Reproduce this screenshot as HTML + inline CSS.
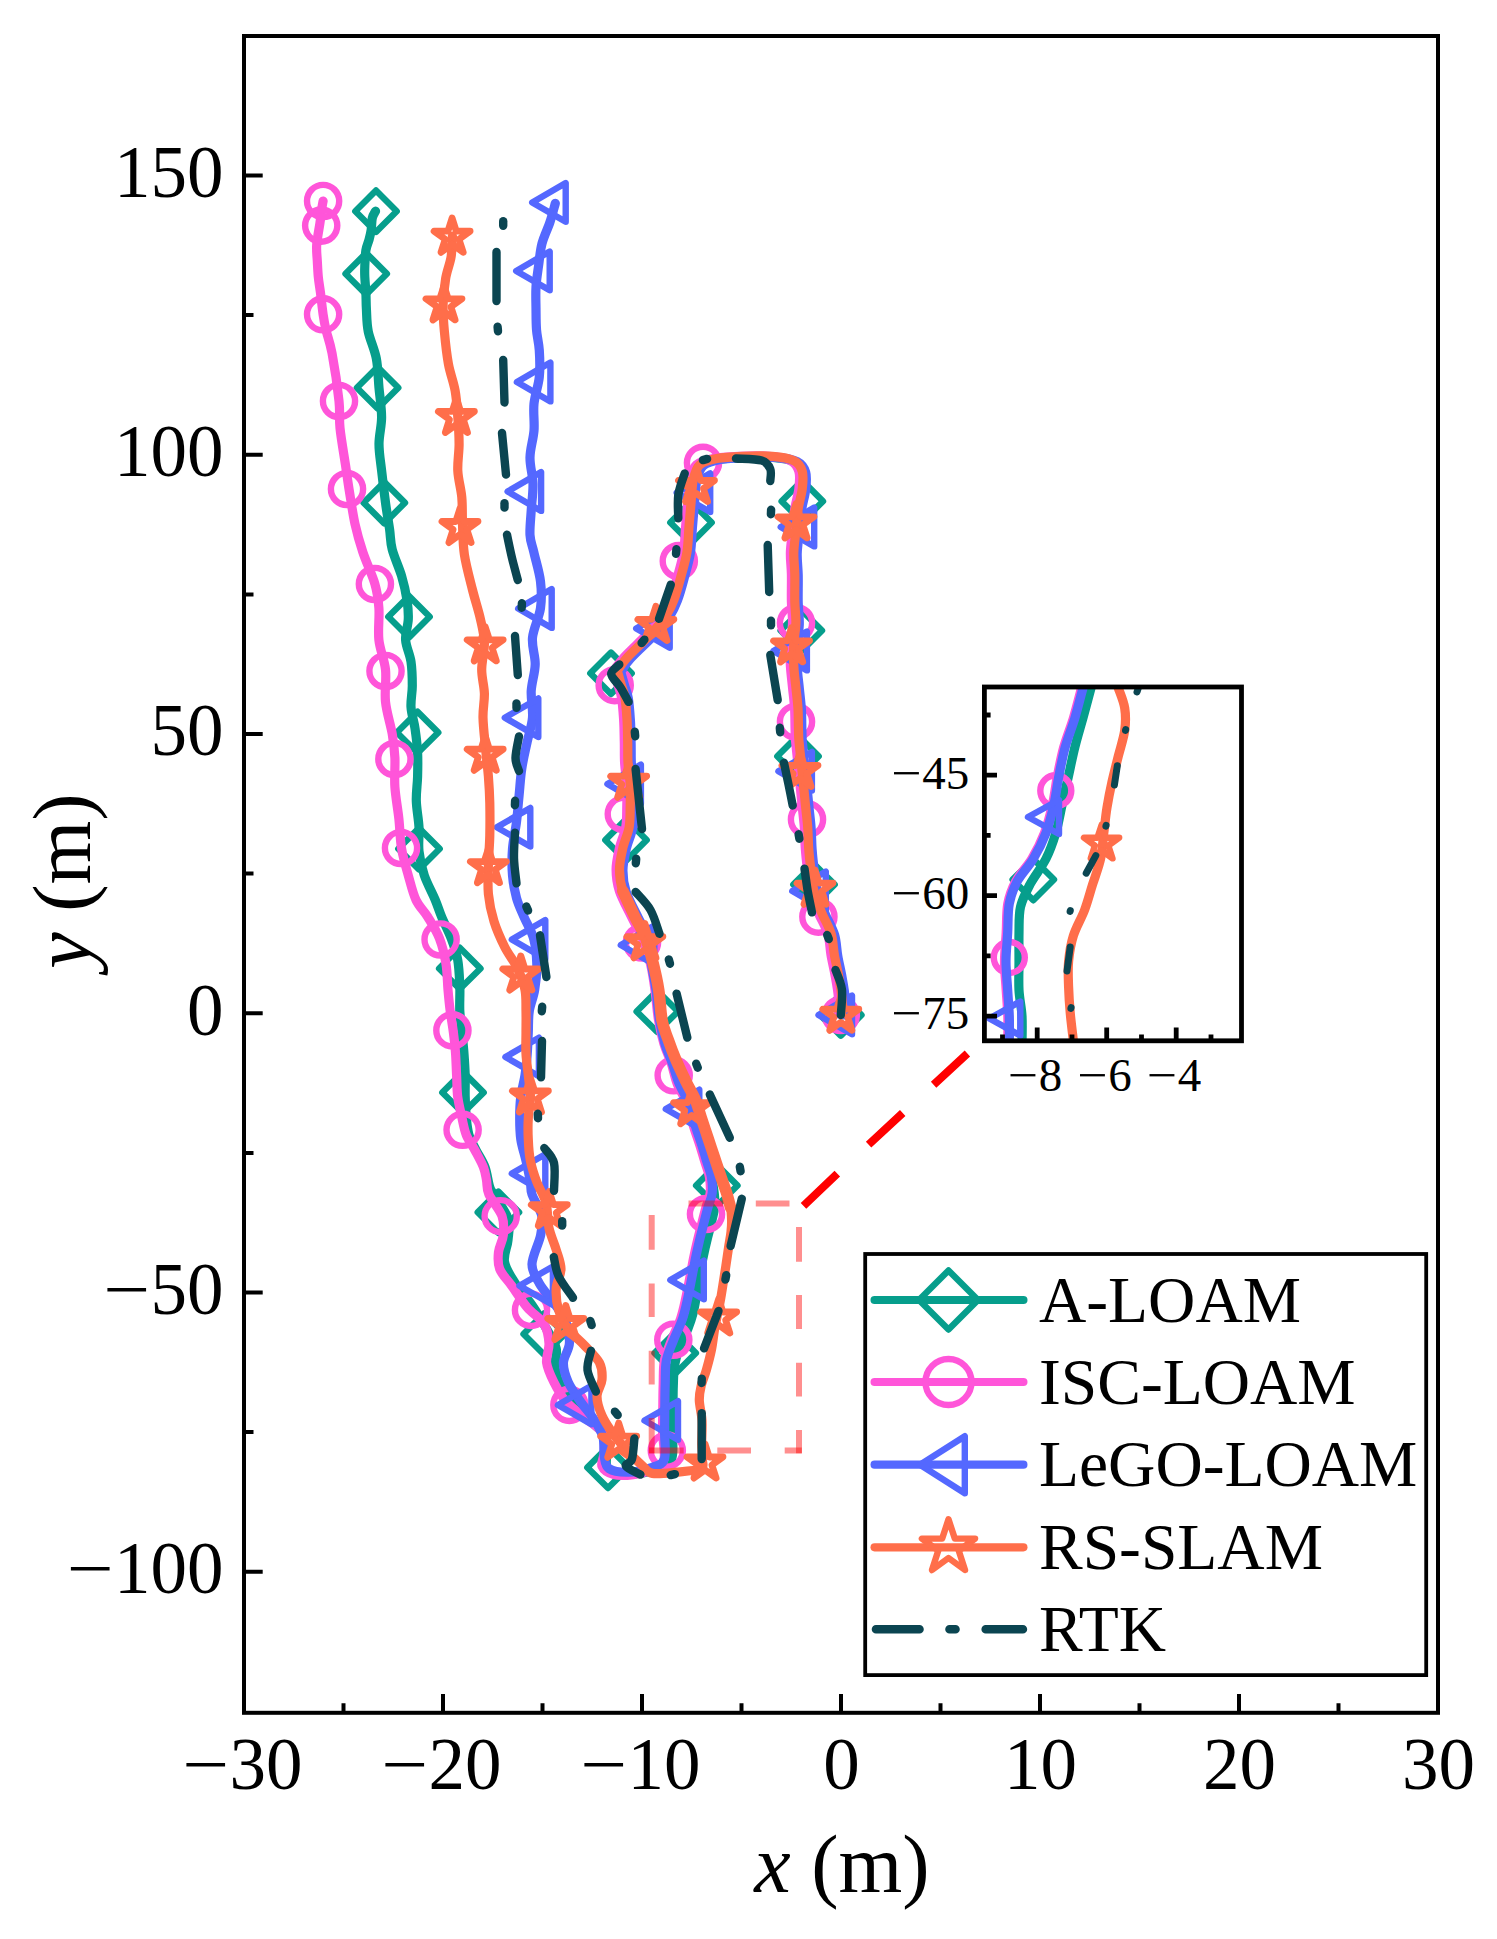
<!DOCTYPE html>
<html lang="en"><head><meta charset="utf-8"><title>Trajectory comparison</title>
<style>html,body{margin:0;padding:0;background:#fff}body{width:1497px;height:1939px;overflow:hidden}svg{display:block}text{font-family:"Liberation Serif",serif;fill:#000}</style></head><body>
<svg width="1497" height="1939" viewBox="0 0 1497 1939">
<rect x="0" y="0" width="1497" height="1939" fill="#fff"/>
<g id="curves">
<path d="M375.5 211.2C375 212.3 373 214.9 372.3 218C371.6 221.1 371.7 226.3 371.2 229.9C370.7 233.5 370 236.1 369.1 239.5C368.2 242.9 366.6 245.8 365.9 250.2C365.2 254.6 365 261.8 364.8 266.2C364.6 270.6 364.6 272.4 364.8 276.9C365 281.3 365.6 287.5 365.9 292.9C366.2 298.2 366 302.5 366.4 309C366.8 315.5 366.6 323.5 368.3 331.7C370 339.9 374.5 349 376.3 358.4C378.1 367.8 378.1 378 379 387.8C379.9 397.6 381.6 407.9 381.6 417.2C381.6 426.5 379 435 379 443.9C379 452.8 380.5 460.8 381.6 470.6C382.7 480.4 384.2 492.9 385.5 502.7C386.8 512.5 388.5 521.6 389.6 529.4C390.7 537.2 390.2 541.6 392.2 549.4C394.2 557.2 399.1 567.6 401.6 576C404.1 584.4 405.9 592.9 407 600C408.1 607.1 408.5 612.2 408.3 618.9C408.1 625.6 405.2 632.9 405.6 640C406.1 647.1 409.9 654 411 661.6C412.1 669.2 412.3 678.1 412.3 685.7C412.3 693.3 410.6 699.9 411 707C411.4 714.1 413.9 720.8 415 728.4C416.1 736 417.2 744.5 417.6 752.5C418 760.5 417.8 768.5 417.6 776.5C417.4 784.5 416.1 792.1 416.3 800.6C416.5 809.1 418.6 818.8 419 827.3C419.4 835.8 418.1 843.3 419 851.3C419.9 859.3 421.6 867.4 424.3 875.4C427 883.4 432.1 892.5 435 899.4C437.9 906.3 439 910.5 441.7 917C444.4 923.5 448.6 931.4 451.3 938.5C454 945.6 456.3 952 457.7 959.8C459.1 967.6 459.4 977 459.8 985.5C460.2 994 459.4 1003.2 459.8 1011C460.2 1018.8 461.3 1025.3 462 1032.5C462.7 1039.7 463.5 1046.9 464 1054C464.5 1061.1 465 1068.2 465.2 1075.3C465.4 1082.4 465 1089.6 465.2 1096.7C465.4 1103.8 465.7 1111.6 466.3 1118C466.9 1124.4 467.4 1129.7 469 1135C470.6 1140.3 473.3 1144.7 476 1150C478.7 1155.3 482.8 1160.9 485 1167C487.2 1173.1 488.1 1181.8 489.5 1186.4C490.9 1191 490.6 1189.1 493.7 1194.4C496.8 1199.8 505.6 1210.9 508 1218.5C510.4 1226.1 508.6 1232.8 508 1240C507.4 1247.2 503.3 1254.6 504.5 1261.8C505.7 1269 510.7 1276.2 515.3 1283.4C519.9 1290.6 526.8 1297.4 532 1305C537.2 1312.6 542.6 1321.8 546.6 1329C550.6 1336.2 554.8 1342 556.2 1348.4C557.6 1354.8 554.2 1361.2 555 1367.6C555.8 1374 558 1380.8 561 1386.8C564 1392.8 568.2 1398.1 573 1403.7C577.8 1409.3 584.7 1415.3 589.9 1420.5C595.1 1425.7 601.5 1429.8 604.3 1435C607.1 1440.2 606.1 1446.2 606.7 1451.8C607.3 1457.4 604.5 1464.9 608 1468.6C611.5 1472.3 620.2 1473.8 628 1474C635.8 1474.2 647.8 1472.5 655 1470C662.2 1467.5 668.6 1465.2 671.5 1459C674.4 1452.8 672.1 1440.9 672.4 1432.5C672.6 1424.1 672.9 1416.3 673 1408.5C673.1 1400.7 673 1393 673.3 1385.7C673.6 1378.5 673.5 1371.5 674.6 1365C675.7 1358.5 677.6 1352.5 679.8 1346.5C682 1340.5 685.6 1334.5 687.8 1329C690 1323.5 691.5 1319.5 693 1313.5C694.5 1307.5 695.6 1300.5 697 1292.8C698.4 1285 700 1273.9 701.2 1267C702.4 1260.1 703.2 1256.4 704.3 1251.6C705.3 1246.8 706.4 1242.6 707.5 1238C708.6 1233.4 709.9 1228.7 711 1224C712.1 1219.3 713.6 1214.5 714.2 1210C714.8 1205.5 715 1202 714.6 1197C714.2 1192 713.2 1186 712 1180C710.8 1174 709.1 1166.8 707.6 1161C706.1 1155.2 704.7 1150.9 702.8 1145C700.9 1139.1 698.5 1132.7 696.4 1125.8C694.3 1118.9 692.7 1110.4 690 1103.4C687.3 1096.4 683.1 1090.7 680.3 1084C677.5 1077.3 675.7 1070 673.3 1063.3C670.9 1056.6 668.1 1051.2 666 1044C663.9 1036.8 662 1029 660.5 1020C659 1011 658.3 999.3 657 990C655.7 980.7 654.3 972.4 652.5 964C650.7 955.6 649.1 947.2 646.3 939.5C643.5 931.8 639.3 925.9 635.5 918C631.7 910.1 625.9 899.9 623.3 892C620.7 884.1 620 877.7 620 870.6C620 863.5 621.7 856.4 623.3 849.3C624.9 842.2 628.5 835 629.7 827.9C630.9 820.8 630.5 813.6 630.7 806.5C630.9 799.4 631.1 792.1 630.7 785C630.3 777.9 628.9 770.9 628.5 763.8C628.1 756.7 628.4 749.6 628.2 742.4C628 735.1 628 727.6 627.5 720.3C627 712.9 626.4 704.1 625.4 698.3C624.4 692.4 622.7 689.1 621.6 685.2C620.5 681.3 619.3 677.2 618.7 675C618.1 672.8 617.8 673.1 617.9 672.2C618 671.3 617.7 671.8 619.3 669.6C620.9 667.4 623.6 663.1 627.3 659C631 654.9 636.6 649.7 641.3 645C646 640.3 650.9 635.9 655.3 630.9C659.7 625.9 664.3 620 667.5 615C670.7 610 672.2 606.6 674.5 600.6C676.8 594.6 678.9 587.1 681 579.2C683.1 571.4 686 562 687.4 553.5C688.8 545 688.8 536.4 689.5 527.9C690.2 519.4 691 510 691.7 502.2C692.4 494.4 692.4 486.9 693.8 480.9C695.2 474.8 696.3 469.5 700.2 465.9C704.1 462.3 710.2 460.9 717.3 459.5C724.4 458.1 733.7 457.7 743 457.3C752.3 456.9 764.4 456.6 772.9 457.3C781.4 458 789.3 459.1 794.3 461.6C799.3 464.1 801.4 467.7 802.8 472.3C804.2 476.9 803.5 483 802.8 489.4C802.1 495.8 799.6 503.7 798.5 510.8C797.4 517.9 797.1 525.1 796.4 532.2C795.7 539.3 794.5 546.4 794.3 553.5C794.1 560.6 795.1 566.7 795.3 574.9C795.5 583.1 795.1 594.5 795.3 602.7C795.5 610.9 796.6 616.9 796.4 624C796.2 631.1 794.6 638.4 794.3 645.5C793.9 652.6 793.9 659.7 794.3 666.8C794.6 673.9 795.7 681.1 796.4 688.2C797.1 695.3 798.1 702.5 798.5 709.6C798.9 716.7 798.8 725.5 799 731C799.2 736.5 799 736.9 799.5 742.4C800 747.9 801 756.7 801.7 763.8C802.4 770.9 803.2 777.9 803.9 785C804.6 792.1 805.3 799.4 806 806.5C806.7 813.6 807.7 820.8 808.2 827.9C808.7 835 808.7 842.2 809.2 849.3C809.7 856.4 810.5 863.5 811.4 870.6C812.3 877.7 812.7 884.9 814.5 892C816.3 899.1 819.2 906.3 822.1 913.4C825 920.5 829.6 927.7 831.7 934.8C833.8 941.9 833.6 948.9 834.9 956C836.1 963.1 838 970.4 839.2 977.5C840.5 984.6 841.9 992.6 842.4 998.9C842.9 1005.1 842.1 1012.3 842 1015" fill="none" stroke="#069E8C" stroke-width="9.2" stroke-linecap="round" stroke-linejoin="round"/>
<path d="M376 190.5L396.7 211.2L376 231.9L355.3 211.2Z" fill="none" stroke="#069E8C" stroke-width="6.4" stroke-linejoin="round"/>
<path d="M366.2 253L386.9 273.7L366.2 294.4L345.5 273.7Z" fill="none" stroke="#069E8C" stroke-width="6.4" stroke-linejoin="round"/>
<path d="M377.6 367.1L398.3 387.8L377.6 408.5L356.9 387.8Z" fill="none" stroke="#069E8C" stroke-width="6.4" stroke-linejoin="round"/>
<path d="M384.3 482L405 502.7L384.3 523.4L363.6 502.7Z" fill="none" stroke="#069E8C" stroke-width="6.4" stroke-linejoin="round"/>
<path d="M409 596L429.7 616.7L409 637.4L388.3 616.7Z" fill="none" stroke="#069E8C" stroke-width="6.4" stroke-linejoin="round"/>
<path d="M417.6 711.7L438.3 732.4L417.6 753.1L396.9 732.4Z" fill="none" stroke="#069E8C" stroke-width="6.4" stroke-linejoin="round"/>
<path d="M419 828L439.7 848.7L419 869.4L398.3 848.7Z" fill="none" stroke="#069E8C" stroke-width="6.4" stroke-linejoin="round"/>
<path d="M459.8 947.7L480.5 968.4L459.8 989.1L439.1 968.4Z" fill="none" stroke="#069E8C" stroke-width="6.4" stroke-linejoin="round"/>
<path d="M463 1071.7L483.7 1092.4L463 1113.1L442.3 1092.4Z" fill="none" stroke="#069E8C" stroke-width="6.4" stroke-linejoin="round"/>
<path d="M498.4 1191.6L519.1 1212.3L498.4 1233L477.7 1212.3Z" fill="none" stroke="#069E8C" stroke-width="6.4" stroke-linejoin="round"/>
<path d="M544.2 1313.3L564.9 1334L544.2 1354.7L523.5 1334Z" fill="none" stroke="#069E8C" stroke-width="6.4" stroke-linejoin="round"/>
<path d="M608 1446.7L628.7 1467.4L608 1488.1L587.3 1467.4Z" fill="none" stroke="#069E8C" stroke-width="6.4" stroke-linejoin="round"/>
<path d="M675.2 1332.3L695.9 1353L675.2 1373.7L654.5 1353Z" fill="none" stroke="#069E8C" stroke-width="6.4" stroke-linejoin="round"/>
<path d="M716.8 1164.7L737.5 1185.4L716.8 1206.1L696.1 1185.4Z" fill="none" stroke="#069E8C" stroke-width="6.4" stroke-linejoin="round"/>
<path d="M657.3 990.7L678 1011.4L657.3 1032.1L636.6 1011.4Z" fill="none" stroke="#069E8C" stroke-width="6.4" stroke-linejoin="round"/>
<path d="M626 819.3L646.7 840L626 860.7L605.3 840Z" fill="none" stroke="#069E8C" stroke-width="6.4" stroke-linejoin="round"/>
<path d="M611 652.6L631.7 673.3L611 694L590.3 673.3Z" fill="none" stroke="#069E8C" stroke-width="6.4" stroke-linejoin="round"/>
<path d="M691 501.9L711.7 522.6L691 543.3L670.3 522.6Z" fill="none" stroke="#069E8C" stroke-width="6.4" stroke-linejoin="round"/>
<path d="M802.3 480.5L823 501.2L802.3 521.9L781.6 501.2Z" fill="none" stroke="#069E8C" stroke-width="6.4" stroke-linejoin="round"/>
<path d="M801.3 609.9L822 630.6L801.3 651.3L780.6 630.6Z" fill="none" stroke="#069E8C" stroke-width="6.4" stroke-linejoin="round"/>
<path d="M798 735.6L818.7 756.3L798 777L777.3 756.3Z" fill="none" stroke="#069E8C" stroke-width="6.4" stroke-linejoin="round"/>
<path d="M814 863.9L834.7 884.6L814 905.3L793.3 884.6Z" fill="none" stroke="#069E8C" stroke-width="6.4" stroke-linejoin="round"/>
<path d="M840.8 994.3L861.5 1015L840.8 1035.7L820.1 1015Z" fill="none" stroke="#069E8C" stroke-width="6.4" stroke-linejoin="round"/>
<path d="M323.1 201C322.9 202.1 322.5 203.7 322 207.4C321.5 211.1 320.8 217.2 319.9 223.4C319 229.6 317.1 238.6 316.7 244.8C316.3 251.1 317 255.5 317.3 260.9C317.6 266.2 317.8 271.6 318.3 276.9C318.8 282.2 319.7 286.7 320.5 292.9C321.3 299.1 322.2 308.1 323.1 314.3C324 320.5 324.5 323.6 326 330C327.5 336.4 329.8 341.2 332 353C334.2 364.8 337.7 388.5 339 401C340.3 413.5 338.9 417.3 340 428C341.1 438.7 343.9 454.3 345.5 465C347.1 475.7 347.9 482.2 349.5 492C351.1 501.8 352.8 514 355 524C357.2 534 359.5 542 362.8 552C366.1 562 372.2 574.7 374.9 584C377.6 593.3 378.2 598.7 378.9 608C379.6 617.3 377.8 629.7 378.9 640C380 650.3 384.4 659.3 385.5 669.6C386.6 679.9 384.4 691 385.5 701.7C386.6 712.4 390.6 724.4 392.2 733.8C393.8 743.1 394.4 748.9 394.9 757.8C395.3 766.7 394.2 776.8 394.9 787C395.6 797.2 397.8 808.7 398.9 819C400 829.3 400 839.3 401.6 848.7C403.2 858.1 405.9 866.9 408.3 875.4C410.7 883.9 412.8 893.1 416 900C419.2 906.9 423.9 910.6 427.8 917C431.7 923.4 436.5 930.7 439.5 938.5C442.5 946.3 444.6 955.5 446 964C447.4 972.5 447.3 982 448 989.8C448.7 997.6 449.3 1003.9 450.2 1011C451.1 1018.1 452.5 1025.3 453.4 1032.5C454.3 1039.7 455.1 1046.9 455.6 1054C456.1 1061.1 456.2 1068.2 456.6 1075.3C457 1082.4 456.8 1089.6 457.7 1096.7C458.6 1103.8 460.6 1111.6 462 1118C463.4 1124.4 464.2 1129.7 466.3 1135C468.4 1140.3 472 1144.7 474.8 1150C477.6 1155.3 481.4 1162 483.4 1167C485.3 1172 485.6 1175.4 486.5 1180C487.4 1184.6 486.3 1188.4 488.9 1194.4C491.5 1200.4 499.6 1209.2 502 1216C504.4 1222.8 503.9 1229.3 503.3 1235.3C502.7 1241.3 499.1 1246.4 498.5 1252C497.9 1257.6 497.5 1263.4 499.7 1269C501.9 1274.6 507.1 1279.4 511.7 1285.8C516.3 1292.2 521.9 1301.1 527.3 1307.5C532.7 1313.9 540.6 1318.3 544.2 1324.3C547.8 1330.3 548.6 1337.1 549 1343.5C549.4 1349.9 545.8 1356.4 546.6 1362.8C547.4 1369.2 550.6 1375.6 553.8 1382C557 1388.4 560.6 1395.3 565.8 1401.3C571 1407.3 579 1412.8 585 1418C591 1423.2 598.8 1426.9 602 1432.5C605.2 1438.1 604.3 1446.2 604.3 1451.8C604.3 1457.4 600.4 1462.4 602 1466.2C603.6 1470 608.8 1473.2 614 1474.6C619.2 1476 626.5 1475.5 633.2 1474.6C639.9 1473.7 648.9 1471.6 654 1469C659.1 1466.4 662.6 1465.1 664 1459C665.4 1452.9 662.8 1440.9 662.6 1432.5C662.4 1424.1 662.7 1416.5 662.8 1408.5C662.9 1400.5 662.9 1392.4 663.2 1384.4C663.5 1376.4 663 1367.7 664.4 1360.4C665.8 1353.1 668.7 1347.5 671.4 1340.5C674.1 1333.5 678.2 1325.7 680.6 1318.6C683 1311.5 684.1 1305.7 685.8 1298C687.5 1290.3 689.6 1278.9 690.9 1272.2C692.2 1265.5 692.5 1263.4 693.6 1258C694.7 1252.6 696.3 1245.5 697.6 1240C698.9 1234.5 700 1230.6 701.4 1225C702.8 1219.4 704.7 1211.8 706.2 1206.5C707.7 1201.2 709.7 1197.9 710.2 1193C710.7 1188.1 710.3 1182.3 709.4 1177C708.5 1171.7 706.2 1166.3 704.6 1161C703 1155.7 701.7 1150.9 699.8 1145C697.9 1139.1 695.5 1132.7 693.4 1125.8C691.3 1118.9 689.7 1110.4 687 1103.4C684.3 1096.4 679.9 1090.7 677.3 1084C674.7 1077.3 673.5 1070 671.3 1063.3C669.1 1056.6 666.1 1051.2 664 1044C661.9 1036.8 660 1029 658.5 1020C657 1011 656.3 999.3 655 990C653.7 980.7 652.6 972.6 650.5 964C648.4 955.4 645.5 946.3 642.4 938.5C639.2 930.7 635.4 924.9 631.6 917C627.8 909.1 622 898.9 619.4 891C616.8 883.1 616.1 876.7 616.1 869.6C616.1 862.5 617.8 855.4 619.4 848.3C621 841.2 624.6 834 625.8 826.9C627 819.8 626.6 812.6 626.8 805.5C627 798.4 627.2 791.1 626.8 784C626.4 776.9 625 769.9 624.6 762.8C624.2 755.7 624.5 748.6 624.3 741.4C624.1 734.1 624.1 726.6 623.6 719.3C623.1 711.9 622.5 703.1 621.5 697.3C620.5 691.4 618.8 688.1 617.7 684.2C616.6 680.3 615.4 676.2 614.8 674C614.2 671.8 613.9 672.1 614 671.2C614.1 670.3 613.8 670.8 615.4 668.6C617 666.4 619.7 662.1 623.4 658C627.1 653.9 632.7 648.7 637.4 644C642.1 639.3 647 634.9 651.4 629.9C655.8 624.9 660.4 619 663.6 614C666.8 609 668.4 605.6 670.6 599.6C672.9 593.6 675 586.1 677.1 578.2C679.2 570.4 682.1 561 683.5 552.5C684.9 544 684.9 535.4 685.6 526.9C686.3 518.4 687.1 509 687.8 501.2C688.5 493.4 688.5 485.9 689.9 479.9C691.3 473.8 692.4 468.5 696.3 464.9C700.2 461.3 706.3 459.9 713.4 458.5C720.5 457.1 729.8 456.7 739.1 456.3C748.4 455.9 760.5 455.6 769 456.3C777.5 457 785.4 458.1 790.4 460.6C795.4 463.1 797.5 466.7 798.9 471.3C800.3 475.9 799.6 482 798.9 488.4C798.2 494.8 795.7 502.7 794.6 509.8C793.5 516.9 793.2 524.1 792.5 531.2C791.8 538.3 790.6 545.4 790.4 552.5C790.2 559.6 791.2 565.7 791.4 573.9C791.6 582.1 791.2 593.5 791.4 601.7C791.6 609.9 792.7 615.9 792.5 623C792.3 630.1 790.8 637.4 790.4 644.5C790 651.6 790 658.7 790.4 665.8C790.8 672.9 791.8 680.1 792.5 687.2C793.2 694.3 794.2 701.5 794.6 708.6C795 715.7 794.9 724.5 795.1 730C795.3 735.5 795.1 735.9 795.6 741.4C796.1 746.9 797.1 755.7 797.8 762.8C798.5 769.9 799.3 776.9 800 784C800.7 791.1 801.4 798.4 802.1 805.5C802.8 812.6 803.8 819.8 804.3 826.9C804.8 834 804.8 841.2 805.3 848.3C805.8 855.4 806.6 862.5 807.5 869.6C808.4 876.7 808.8 883.9 810.6 891C812.4 898.1 815.3 905.3 818.2 912.4C821.1 919.5 825.7 926.7 827.8 933.8C829.9 940.9 829.8 947.9 831 955C832.2 962.1 834.1 969.4 835.3 976.5C836.6 983.6 838 991.6 838.5 997.9C839 1004.1 838.2 1011.3 838.1 1014" fill="none" stroke="#FF55D9" stroke-width="9.2" stroke-linecap="round" stroke-linejoin="round"/>
<circle cx="323.1" cy="201" r="16.1" fill="none" stroke="#FF55D9" stroke-width="6.4"/>
<circle cx="321.2" cy="225.6" r="16.1" fill="none" stroke="#FF55D9" stroke-width="6.4"/>
<circle cx="323.1" cy="314.3" r="16.1" fill="none" stroke="#FF55D9" stroke-width="6.4"/>
<circle cx="339" cy="401" r="16.1" fill="none" stroke="#FF55D9" stroke-width="6.4"/>
<circle cx="347" cy="489" r="16.1" fill="none" stroke="#FF55D9" stroke-width="6.4"/>
<circle cx="374.9" cy="584" r="16.1" fill="none" stroke="#FF55D9" stroke-width="6.4"/>
<circle cx="385.5" cy="671" r="16.1" fill="none" stroke="#FF55D9" stroke-width="6.4"/>
<circle cx="394.4" cy="759" r="16.1" fill="none" stroke="#FF55D9" stroke-width="6.4"/>
<circle cx="401" cy="848" r="16.1" fill="none" stroke="#FF55D9" stroke-width="6.4"/>
<circle cx="440.6" cy="939.5" r="16.1" fill="none" stroke="#FF55D9" stroke-width="6.4"/>
<circle cx="452.4" cy="1030.4" r="16.1" fill="none" stroke="#FF55D9" stroke-width="6.4"/>
<circle cx="462.6" cy="1129.8" r="16.1" fill="none" stroke="#FF55D9" stroke-width="6.4"/>
<circle cx="500.7" cy="1216.2" r="16.1" fill="none" stroke="#FF55D9" stroke-width="6.4"/>
<circle cx="531" cy="1309.9" r="16.1" fill="none" stroke="#FF55D9" stroke-width="6.4"/>
<circle cx="569.4" cy="1404.9" r="16.1" fill="none" stroke="#FF55D9" stroke-width="6.4"/>
<circle cx="666.8" cy="1450.6" r="16.1" fill="none" stroke="#FF55D9" stroke-width="6.4"/>
<circle cx="673.3" cy="1339.8" r="16.1" fill="none" stroke="#FF55D9" stroke-width="6.4"/>
<circle cx="706" cy="1214" r="16.1" fill="none" stroke="#FF55D9" stroke-width="6.4"/>
<circle cx="673.7" cy="1075.3" r="16.1" fill="none" stroke="#FF55D9" stroke-width="6.4"/>
<circle cx="642" cy="942.5" r="16.1" fill="none" stroke="#FF55D9" stroke-width="6.4"/>
<circle cx="623.8" cy="814" r="16.1" fill="none" stroke="#FF55D9" stroke-width="6.4"/>
<circle cx="614.7" cy="685.2" r="16.1" fill="none" stroke="#FF55D9" stroke-width="6.4"/>
<circle cx="678.8" cy="561" r="16.1" fill="none" stroke="#FF55D9" stroke-width="6.4"/>
<circle cx="703" cy="462.8" r="16.1" fill="none" stroke="#FF55D9" stroke-width="6.4"/>
<circle cx="796" cy="623" r="16.1" fill="none" stroke="#FF55D9" stroke-width="6.4"/>
<circle cx="796" cy="721.7" r="16.1" fill="none" stroke="#FF55D9" stroke-width="6.4"/>
<circle cx="807" cy="819.4" r="16.1" fill="none" stroke="#FF55D9" stroke-width="6.4"/>
<circle cx="818.4" cy="916.7" r="16.1" fill="none" stroke="#FF55D9" stroke-width="6.4"/>
<circle cx="840.8" cy="1015" r="16.1" fill="none" stroke="#FF55D9" stroke-width="6.4"/>
<path d="M555.3 203.4C554.4 206.5 552.2 215.3 550 222C547.8 228.7 543.9 236.2 542 243.5C540.1 250.8 539.6 258.2 538.6 265.5C537.6 272.8 536.4 279.9 536 287C535.6 294.1 535.9 300.9 536 308C536.1 315.1 536 322.5 536.5 329.6C537 336.7 538.8 342.5 539.3 350.4C539.8 358.3 540.2 368.1 539.3 377C538.4 385.9 534.9 394.9 534 403.8C533.1 412.7 534.7 421.7 534 430.6C533.3 439.5 530.2 448.4 530 457.3C529.8 466.2 532.8 475.1 533 484C533.2 492.9 531.7 502.2 531.2 510.7C530.7 519.2 529.6 528.1 530 535C530.4 541.9 532 544.2 533.8 552C535.5 559.8 539.4 572.1 540.5 581.5C541.6 590.9 541.8 598.9 540.5 608.2C539.2 617.6 533.4 628.2 532.5 637.6C531.6 647 535.4 655.4 535.2 664.3C535 673.2 531.7 682.1 531.2 691C530.8 699.9 533.2 709.2 532.5 717.7C531.8 726.2 529 733.3 527.2 741.8C525.4 750.3 523.1 759.6 521.8 768.5C520.4 777.4 520 786.3 519.1 795.2C518.2 804.1 517.6 813.1 516.5 822C515.4 830.9 513.2 839.8 512.5 848.7C511.8 857.6 511.8 867.2 512.5 875.4C513.2 883.6 514.6 891.1 516.5 898C518.4 904.9 521.1 910.2 524 917C526.9 923.8 531.5 930.7 533.6 938.5C535.7 946.3 536.6 955.5 536.8 964C537 972.5 536 982 534.7 989.8C533.5 997.6 530.4 1003.9 529.3 1011C528.2 1018.1 528.6 1025.3 528.3 1032.5C527.9 1039.7 527.8 1046.9 527.2 1054C526.7 1061.1 526.1 1068.2 525 1075.3C523.9 1082.4 521.7 1089.6 520.8 1096.7C519.9 1103.8 519.7 1110.9 519.7 1118C519.7 1125.1 519.8 1132.3 520.8 1139.4C521.8 1146.5 524.4 1153.7 526 1160.8C527.6 1167.9 529.4 1176.4 530.4 1182C531.4 1187.6 530.1 1188.7 532 1194.4C533.9 1200.1 540.4 1209.2 541.8 1216C543.2 1222.8 542.2 1227.3 540.6 1235.3C539 1243.3 532.2 1256 532 1264C531.8 1272 535.8 1277 539.4 1283.4C543 1289.9 549.4 1296.3 553.8 1302.7C558.2 1309.1 563.2 1315.2 565.8 1322C568.4 1328.8 569.8 1336.7 569.4 1343.5C569 1350.3 563.6 1356.4 563.4 1362.8C563.2 1369.2 565.4 1375.6 568.2 1382C571 1388.4 575.9 1394.9 580.3 1401.3C584.7 1407.7 590.9 1414.5 594.7 1420.5C598.5 1426.5 601.4 1431.3 603 1437.3C604.6 1443.3 603.3 1451.4 604.3 1456.6C605.3 1461.8 605 1466 609 1468.6C613 1471.2 621.2 1472.4 628.4 1472.2C635.6 1472 646.4 1469.6 652.4 1467.4C658.4 1465.2 662.4 1464.8 664.4 1459C666.4 1453.2 664.5 1440.9 664.6 1432.5C664.7 1424.1 664.7 1416.5 664.8 1408.5C664.9 1400.5 664.9 1392.4 665.2 1384.4C665.5 1376.4 665 1367.7 666.4 1360.4C667.8 1353.1 670.7 1347.5 673.4 1340.5C676.1 1333.5 680.2 1325.7 682.6 1318.6C685 1311.5 686.1 1305.7 687.8 1298C689.5 1290.3 691.6 1278.9 692.9 1272.2C694.2 1265.5 694.5 1263.4 695.6 1258C696.7 1252.6 698.3 1245.5 699.6 1240C700.9 1234.5 702 1230.6 703.4 1225C704.8 1219.4 706.7 1211.8 708.2 1206.5C709.7 1201.2 711.7 1197.9 712.2 1193C712.7 1188.1 712.3 1182.3 711.4 1177C710.5 1171.7 708.2 1166.3 706.6 1161C705 1155.7 703.7 1150.9 701.8 1145C699.9 1139.1 697.5 1132.7 695.4 1125.8C693.3 1118.9 691.7 1110.4 689 1103.4C686.3 1096.4 682.1 1090.7 679.3 1084C676.5 1077.3 674.7 1070 672.3 1063.3C669.9 1056.6 667.1 1051.2 665 1044C662.9 1036.8 661 1029 659.5 1020C658 1011 657.3 999.3 656 990C654.7 980.7 652.6 972.4 651.5 964C650.4 955.6 651.4 947.2 649.2 939.5C647 931.8 642.2 925.9 638.4 918C634.6 910.1 628.8 899.9 626.2 892C623.6 884.1 622.9 877.7 622.9 870.6C622.9 863.5 624.6 856.4 626.2 849.3C627.8 842.2 631.4 835 632.6 827.9C633.8 820.8 633.4 813.6 633.6 806.5C633.8 799.4 634 792.1 633.6 785C633.2 777.9 631.8 770.9 631.4 763.8C631 756.7 631.3 749.6 631.1 742.4C630.9 735.1 630.9 727.6 630.4 720.3C629.9 712.9 629.3 704.1 628.3 698.3C627.3 692.4 625.6 689.1 624.5 685.2C623.4 681.3 622.2 677.2 621.6 675C621 672.8 620.7 673.1 620.8 672.2C620.9 671.3 620.6 671.8 622.2 669.6C623.8 667.4 626.5 663.1 630.2 659C633.9 654.9 639.5 649.7 644.2 645C648.9 640.3 653.8 635.9 658.2 630.9C662.6 625.9 667.2 620 670.4 615C673.6 610 675.1 606.6 677.4 600.6C679.6 594.6 681.8 587.1 683.9 579.2C686 571.4 688.9 562 690.3 553.5C691.7 545 691.7 536.4 692.4 527.9C693.1 519.4 693.9 510 694.6 502.2C695.3 494.4 695.3 486.9 696.7 480.9C698.1 474.8 699.2 469.5 703.1 465.9C707 462.3 713.1 460.9 720.2 459.5C727.3 458.1 736.6 457.7 745.9 457.3C755.2 456.9 767.2 456.6 775.8 457.3C784.3 458 792.2 459.1 797.2 461.6C802.2 464.1 804.3 467.7 805.7 472.3C807.1 476.9 806.4 483 805.7 489.4C805 495.8 802.5 503.7 801.4 510.8C800.3 517.9 800 525.1 799.3 532.2C798.6 539.3 797.4 546.4 797.2 553.5C797 560.6 798 566.7 798.2 574.9C798.4 583.1 798 594.5 798.2 602.7C798.4 610.9 799.5 616.9 799.3 624C799.1 631.1 797.5 638.4 797.2 645.5C796.8 652.6 796.8 659.7 797.2 666.8C797.5 673.9 798.6 681.1 799.3 688.2C800 695.3 801 702.5 801.4 709.6C801.8 716.7 801.7 725.5 801.9 731C802.1 736.5 801.9 736.9 802.4 742.4C802.9 747.9 803.9 756.7 804.6 763.8C805.3 770.9 806.1 777.9 806.8 785C807.5 792.1 808.2 799.4 808.9 806.5C809.6 813.6 810.6 820.8 811.1 827.9C811.6 835 811.6 842.2 812.1 849.3C812.6 856.4 813.4 863.5 814.3 870.6C815.2 877.7 815.6 884.9 817.4 892C819.2 899.1 822.1 906.3 825 913.4C827.9 920.5 832.5 927.7 834.6 934.8C836.7 941.9 836.5 948.9 837.8 956C839 963.1 840.9 970.4 842.1 977.5C843.4 984.6 844.8 992.6 845.3 998.9C845.8 1005.1 845 1012.3 844.9 1015" fill="none" stroke="#5468FF" stroke-width="9.2" stroke-linecap="round" stroke-linejoin="round"/>
<path d="M532.2 202.4L565.7 183.1L565.7 221.8Z" fill="none" stroke="#5468FF" stroke-width="6.4" stroke-linejoin="round"/>
<path d="M516.2 270.9L549.7 251.5L549.7 290.2Z" fill="none" stroke="#5468FF" stroke-width="6.4" stroke-linejoin="round"/>
<path d="M516.9 382L550.4 362.6L550.4 401.4Z" fill="none" stroke="#5468FF" stroke-width="6.4" stroke-linejoin="round"/>
<path d="M507.6 491.5L541.1 472.1L541.1 510.9Z" fill="none" stroke="#5468FF" stroke-width="6.4" stroke-linejoin="round"/>
<path d="M518.2 608.5L551.7 589.1L551.7 627.9Z" fill="none" stroke="#5468FF" stroke-width="6.4" stroke-linejoin="round"/>
<path d="M504.8 717.7L538.3 698.4L538.3 737.1Z" fill="none" stroke="#5468FF" stroke-width="6.4" stroke-linejoin="round"/>
<path d="M496.8 827.3L530.3 807.9L530.3 846.6Z" fill="none" stroke="#5468FF" stroke-width="6.4" stroke-linejoin="round"/>
<path d="M511.8 939.5L545.3 920.1L545.3 958.9Z" fill="none" stroke="#5468FF" stroke-width="6.4" stroke-linejoin="round"/>
<path d="M505.4 1057L538.9 1037.7L538.9 1076.3Z" fill="none" stroke="#5468FF" stroke-width="6.4" stroke-linejoin="round"/>
<path d="M511.8 1173.6L545.3 1154.2L545.3 1192.9Z" fill="none" stroke="#5468FF" stroke-width="6.4" stroke-linejoin="round"/>
<path d="M519.4 1285.8L552.9 1266.5L552.9 1305.1Z" fill="none" stroke="#5468FF" stroke-width="6.4" stroke-linejoin="round"/>
<path d="M557.9 1405L591.4 1385.7L591.4 1424.3Z" fill="none" stroke="#5468FF" stroke-width="6.4" stroke-linejoin="round"/>
<path d="M644.5 1420.5L678 1401.2L678 1439.8Z" fill="none" stroke="#5468FF" stroke-width="6.4" stroke-linejoin="round"/>
<path d="M670.3 1280L703.8 1260.7L703.8 1299.3Z" fill="none" stroke="#5468FF" stroke-width="6.4" stroke-linejoin="round"/>
<path d="M665.8 1109L699.3 1089.7L699.3 1128.3Z" fill="none" stroke="#5468FF" stroke-width="6.4" stroke-linejoin="round"/>
<path d="M620.8 945L654.3 925.6L654.3 964.4Z" fill="none" stroke="#5468FF" stroke-width="6.4" stroke-linejoin="round"/>
<path d="M607.4 784L640.9 764.6L640.9 803.4Z" fill="none" stroke="#5468FF" stroke-width="6.4" stroke-linejoin="round"/>
<path d="M636.2 628.4L669.7 609L669.7 647.8Z" fill="none" stroke="#5468FF" stroke-width="6.4" stroke-linejoin="round"/>
<path d="M676.7 492.7L710.2 473.3L710.2 512Z" fill="none" stroke="#5468FF" stroke-width="6.4" stroke-linejoin="round"/>
<path d="M780.7 527L814.2 507.6L814.2 546.4Z" fill="none" stroke="#5468FF" stroke-width="6.4" stroke-linejoin="round"/>
<path d="M773.4 651L806.9 631.6L806.9 670.4Z" fill="none" stroke="#5468FF" stroke-width="6.4" stroke-linejoin="round"/>
<path d="M778.4 771.3L811.9 751.9L811.9 790.6Z" fill="none" stroke="#5468FF" stroke-width="6.4" stroke-linejoin="round"/>
<path d="M792.3 891L825.8 871.6L825.8 910.4Z" fill="none" stroke="#5468FF" stroke-width="6.4" stroke-linejoin="round"/>
<path d="M818.5 1015L852 995.6L852 1034.3Z" fill="none" stroke="#5468FF" stroke-width="6.4" stroke-linejoin="round"/>
<path d="M452.4 236C452.2 239.5 452.2 249.8 451.1 256.9C450 263.9 447 270.3 445.7 278.3C444.4 286.3 443.3 296.1 443.1 305C442.9 313.9 443.5 321.9 444.4 331.7C445.3 341.5 446.6 354 448.4 363.8C450.2 373.6 453.5 381.6 455.1 390.5C456.7 399.4 457.1 408.3 457.8 417.2C458.5 426.1 459.1 435 459.1 443.9C459.1 452.8 457.4 461.7 457.8 470.6C458.2 479.5 461 488.5 461.8 497.4C462.6 506.3 462.1 514.5 462.5 524.1C462.9 533.7 462.8 543.8 464.4 554.7C466 565.6 469.7 578.8 472.4 589.5C475.1 600.2 478.4 610 480.4 618.9C482.4 627.8 484.2 634.4 484.4 642.9C484.6 651.4 481.7 661.1 481.7 669.6C481.7 678.1 484.2 685.7 484.4 693.7C484.6 701.7 482.8 708.4 483 717.7C483.2 727.1 484.8 740 485.7 749.8C486.6 759.6 487.7 767.6 488.4 776.5C489.1 785.4 489.6 793.4 489.8 803.2C490 813 490 825 489.8 835.3C489.6 845.5 488.6 854.9 488.4 864.7C488.2 874.5 487.5 884.5 488.4 894C489.3 903.5 491.3 912.6 494 921.4C496.7 930.2 500.8 939.2 504.7 947C508.6 954.8 514.2 961.3 517.6 968.4C521 975.5 523.6 982.7 525 989.8C526.4 996.9 525.8 1003.9 526 1011C526.2 1018.1 526 1025.3 526 1032.5C526 1039.7 525.6 1046.9 526 1054C526.4 1061.1 527.6 1068.2 528.3 1075.3C529 1082.4 530.4 1089.6 530.4 1096.7C530.4 1103.8 528.6 1110.9 528.3 1118C527.9 1125.1 527.9 1132.3 528.3 1139.4C528.6 1146.5 529 1153.7 530.4 1160.8C531.8 1167.9 534.2 1175 536.8 1182C539.4 1189 544 1195.3 546 1203C548 1210.7 547.3 1220.2 549 1228C550.7 1235.8 554.2 1242.9 556.2 1249.7C558.2 1256.5 561 1262.6 561 1269C561 1275.4 556.6 1281.4 556.2 1288.2C555.8 1295 556.6 1303.1 558.6 1309.9C560.6 1316.7 563.8 1323 568.2 1329C572.6 1335 579.8 1340.4 585 1346C590.2 1351.6 596.7 1357.2 599.5 1362.8C602.3 1368.4 602.4 1374 602 1379.6C601.6 1385.2 597 1390.5 597 1396.5C597 1402.5 599.2 1409.3 602 1415.7C604.8 1422.1 609.6 1429 614 1435C618.4 1441 623.6 1446.6 628.4 1451.8C633.2 1457 638.8 1462.6 642.8 1466.2C646.8 1469.8 646.8 1472.4 652.4 1473.4C658 1474.4 668.4 1473 676.4 1472.2C684.4 1471.4 696.1 1470.6 700.5 1468.6C704.9 1466.6 702.3 1464 702.5 1460C702.7 1456 701.8 1451.1 701.7 1444.5C701.6 1437.9 702.4 1427.9 702 1420.5C701.6 1413.1 699.4 1405.8 699.3 1400C699.2 1394.2 700 1390.7 701.2 1385.7C702.4 1380.7 704.6 1376.2 706.3 1370.2C708 1364.2 710.1 1356.5 711.5 1349.6C712.9 1342.7 713.6 1335 714.6 1329C715.6 1323 716.7 1318.7 717.7 1313.5C718.7 1308.3 719.6 1304.9 720.8 1298C722 1291.1 723.6 1280.5 724.9 1272.2C726.2 1263.9 727.5 1254.7 728.5 1248C729.5 1241.3 730.5 1236.6 731 1232C731.5 1227.4 731.7 1224.7 731.6 1220.6C731.5 1216.5 731.4 1212.2 730.6 1207.6C729.8 1203 728.2 1198.1 726.6 1193C725 1187.9 723 1182.8 721 1177C719 1171.2 716.7 1164.3 714.6 1157.9C712.5 1151.5 710.3 1145 708.2 1138.6C706.1 1132.2 703.9 1125.8 701.8 1119.4C699.7 1113 698.1 1106.4 695.4 1100C692.7 1093.6 688.9 1087.7 685.7 1081C682.5 1074.3 679 1067 676 1060C673 1053 670.3 1045.9 668 1039.2C665.7 1032.5 663.5 1028.2 662 1020C660.5 1011.8 660.2 999.1 658.7 989.8C657.2 980.5 655.4 972.5 653.3 964C651.1 955.5 648.8 946.3 645.8 938.5C642.8 930.7 638.8 924.9 635 917C631.2 909.1 625.4 898.9 622.8 891C620.2 883.1 619.5 876.7 619.5 869.6C619.5 862.5 621.2 855.4 622.8 848.3C624.4 841.2 628 834 629.2 826.9C630.4 819.8 630 812.6 630.2 805.5C630.4 798.4 630.6 791.1 630.2 784C629.8 776.9 628.4 769.9 628 762.8C627.6 755.7 627.9 748.6 627.7 741.4C627.5 734.1 627.5 726.6 627 719.3C626.5 711.9 625.9 703.1 624.9 697.3C623.9 691.4 622.2 688.1 621.1 684.2C620 680.3 618.8 676.2 618.2 674C617.6 671.8 617.3 672.1 617.4 671.2C617.5 670.3 617.2 670.8 618.8 668.6C620.4 666.4 623.1 662.1 626.8 658C630.5 653.9 636.1 648.7 640.8 644C645.5 639.3 650.4 634.9 654.8 629.9C659.2 624.9 663.8 619 667 614C670.2 609 671.8 605.6 674 599.6C676.2 593.6 678.4 586.1 680.5 578.2C682.6 570.4 685.5 561 686.9 552.5C688.3 544 688.3 535.4 689 526.9C689.7 518.4 690.5 509 691.2 501.2C691.9 493.4 691.9 485.9 693.3 479.9C694.7 473.8 695.8 468.5 699.7 464.9C703.6 461.3 709.7 459.9 716.8 458.5C723.9 457.1 733.2 456.7 742.5 456.3C751.8 455.9 763.9 455.6 772.4 456.3C780.9 457 788.8 458.1 793.8 460.6C798.8 463.1 800.9 466.7 802.3 471.3C803.7 475.9 803 482 802.3 488.4C801.6 494.8 799.1 502.7 798 509.8C796.9 516.9 796.6 524.1 795.9 531.2C795.2 538.3 794 545.4 793.8 552.5C793.6 559.6 794.6 565.7 794.8 573.9C795 582.1 794.6 593.5 794.8 601.7C795 609.9 796.1 615.9 795.9 623C795.7 630.1 794.1 637.4 793.8 644.5C793.4 651.6 793.4 658.7 793.8 665.8C794.1 672.9 795.2 680.1 795.9 687.2C796.6 694.3 797.6 701.5 798 708.6C798.4 715.7 798.3 724.5 798.5 730C798.7 735.5 798.5 735.9 799 741.4C799.5 746.9 800.5 755.7 801.2 762.8C801.9 769.9 802.7 776.9 803.4 784C804.1 791.1 804.8 798.4 805.5 805.5C806.2 812.6 807.2 819.8 807.7 826.9C808.2 834 808.2 841.2 808.7 848.3C809.2 855.4 810 862.5 810.9 869.6C811.8 876.7 812.2 883.9 814 891C815.8 898.1 818.7 905.3 821.6 912.4C824.5 919.5 829.1 926.7 831.2 933.8C833.3 940.9 833.1 947.9 834.4 955C835.6 962.1 837.5 969.4 838.7 976.5C840 983.6 841.4 991.6 841.9 997.9C842.4 1004.1 841.6 1011.3 841.5 1014" fill="none" stroke="#FF6E4A" stroke-width="9.2" stroke-linecap="round" stroke-linejoin="round"/>
<path d="M730.6 1207.6C729.9 1205.2 728.2 1198.1 726.6 1193C725 1187.9 723 1182.8 721 1177C719 1171.2 716.7 1164.3 714.6 1157.9C712.5 1151.5 710.3 1145 708.2 1138.6C706.1 1132.2 703.9 1125.8 701.8 1119.4C699.7 1113 698.1 1106.4 695.4 1100C692.7 1093.6 688.9 1087.7 685.7 1081C682.5 1074.3 679 1067 676 1060C673 1053 670.3 1045.9 668 1039.2C665.7 1032.5 663.5 1028.2 662 1020C660.5 1011.8 660.2 999.1 658.7 989.8C657.2 980.5 655.4 972.5 653.3 964C651.1 955.5 648.8 946.3 645.8 938.5C642.8 930.7 638.8 924.9 635 917C631.2 909.1 624.8 895.3 622.8 891" fill="none" stroke="#FF6E4A" stroke-width="11.6" stroke-linecap="round" stroke-linejoin="round"/>
<path d="M452.1 218.1L456.3 231.2L470.1 231.2L459 239.2L463.2 252.3L452.1 244.2L441 252.3L445.2 239.2L434.1 231.2L447.9 231.2Z" fill="none" stroke="#FF6E4A" stroke-width="6.8" stroke-linejoin="round"/>
<path d="M444 285.7L448.2 298.8L462 298.8L450.9 306.8L455.1 319.9L444 311.8L432.9 319.9L437.1 306.8L426 298.8L439.8 298.8Z" fill="none" stroke="#FF6E4A" stroke-width="6.8" stroke-linejoin="round"/>
<path d="M456.4 398.3L460.6 411.4L474.4 411.4L463.3 419.4L467.5 432.5L456.4 424.4L445.3 432.5L449.5 419.4L438.4 411.4L452.2 411.4Z" fill="none" stroke="#FF6E4A" stroke-width="6.8" stroke-linejoin="round"/>
<path d="M460 508.4L464.2 521.5L478 521.5L466.9 529.5L471.1 542.6L460 534.5L448.9 542.6L453.1 529.5L442 521.5L455.8 521.5Z" fill="none" stroke="#FF6E4A" stroke-width="6.8" stroke-linejoin="round"/>
<path d="M485.2 626.7L489.4 639.8L503.2 639.8L492.1 647.8L496.3 660.9L485.2 652.8L474.1 660.9L478.3 647.8L467.2 639.8L481 639.8Z" fill="none" stroke="#FF6E4A" stroke-width="6.8" stroke-linejoin="round"/>
<path d="M485.2 736.1L489.4 749.2L503.2 749.2L492.1 757.2L496.3 770.3L485.2 762.2L474.1 770.3L478.3 757.2L467.2 749.2L481 749.2Z" fill="none" stroke="#FF6E4A" stroke-width="6.8" stroke-linejoin="round"/>
<path d="M488.4 848.5L492.6 861.6L506.4 861.6L495.3 869.6L499.5 882.7L488.4 874.6L477.3 882.7L481.5 869.6L470.4 861.6L484.2 861.6Z" fill="none" stroke="#FF6E4A" stroke-width="6.8" stroke-linejoin="round"/>
<path d="M520.8 955.9L525 969L538.8 969L527.7 977L531.9 990.1L520.8 982L509.7 990.1L513.9 977L502.8 969L516.6 969Z" fill="none" stroke="#FF6E4A" stroke-width="6.8" stroke-linejoin="round"/>
<path d="M530.4 1077.8L534.6 1090.9L548.4 1090.9L537.3 1098.9L541.5 1112L530.4 1103.9L519.3 1112L523.5 1098.9L512.4 1090.9L526.2 1090.9Z" fill="none" stroke="#FF6E4A" stroke-width="6.8" stroke-linejoin="round"/>
<path d="M549.3 1191.6L553.5 1204.7L567.3 1204.7L556.2 1212.7L560.4 1225.8L549.3 1217.7L538.2 1225.8L542.4 1212.7L531.3 1204.7L545.1 1204.7Z" fill="none" stroke="#FF6E4A" stroke-width="6.8" stroke-linejoin="round"/>
<path d="M565.8 1305.4L570 1318.5L583.8 1318.5L572.7 1326.5L576.9 1339.6L565.8 1331.5L554.7 1339.6L558.9 1326.5L547.8 1318.5L561.6 1318.5Z" fill="none" stroke="#FF6E4A" stroke-width="6.8" stroke-linejoin="round"/>
<path d="M618.7 1423.1L622.9 1436.2L636.7 1436.2L625.6 1444.2L629.8 1457.3L618.7 1449.2L607.6 1457.3L611.8 1444.2L600.7 1436.2L614.5 1436.2Z" fill="none" stroke="#FF6E4A" stroke-width="6.8" stroke-linejoin="round"/>
<path d="M705 1443.9L709.2 1457L723 1457L711.9 1465L716.1 1478.1L705 1470L693.9 1478.1L698.1 1465L687 1457L700.8 1457Z" fill="none" stroke="#FF6E4A" stroke-width="6.8" stroke-linejoin="round"/>
<path d="M718.7 1298.9L722.9 1312L736.7 1312L725.6 1320L729.8 1333.1L718.7 1325L707.6 1333.1L711.8 1320L700.7 1312L714.5 1312Z" fill="none" stroke="#FF6E4A" stroke-width="6.8" stroke-linejoin="round"/>
<path d="M691.7 1089.5L695.9 1102.6L709.7 1102.6L698.6 1110.6L702.8 1123.7L691.7 1115.6L680.6 1123.7L684.8 1110.6L673.7 1102.6L687.5 1102.6Z" fill="none" stroke="#FF6E4A" stroke-width="6.8" stroke-linejoin="round"/>
<path d="M644.9 923.6L649.1 936.7L662.9 936.7L651.8 944.7L656 957.8L644.9 949.7L633.8 957.8L638 944.7L626.9 936.7L640.7 936.7Z" fill="none" stroke="#FF6E4A" stroke-width="6.8" stroke-linejoin="round"/>
<path d="M628.7 763.1L632.9 776.2L646.7 776.2L635.6 784.2L639.8 797.3L628.7 789.2L617.6 797.3L621.8 784.2L610.7 776.2L624.5 776.2Z" fill="none" stroke="#FF6E4A" stroke-width="6.8" stroke-linejoin="round"/>
<path d="M655.9 606.3L660.1 619.4L673.9 619.4L662.8 627.4L667 640.5L655.9 632.4L644.8 640.5L649 627.4L637.9 619.4L651.7 619.4Z" fill="none" stroke="#FF6E4A" stroke-width="6.8" stroke-linejoin="round"/>
<path d="M696.5 467.4L700.7 480.5L714.5 480.5L703.4 488.5L707.6 501.6L696.5 493.5L685.4 501.6L689.6 488.5L678.5 480.5L692.3 480.5Z" fill="none" stroke="#FF6E4A" stroke-width="6.8" stroke-linejoin="round"/>
<path d="M796 503.7L800.2 516.8L814 516.8L802.9 524.8L807.1 537.9L796 529.8L784.9 537.9L789.1 524.8L778 516.8L791.8 516.8Z" fill="none" stroke="#FF6E4A" stroke-width="6.8" stroke-linejoin="round"/>
<path d="M791.6 627.7L795.8 640.8L809.6 640.8L798.5 648.8L802.7 661.9L791.6 653.8L780.5 661.9L784.7 648.8L773.6 640.8L787.4 640.8Z" fill="none" stroke="#FF6E4A" stroke-width="6.8" stroke-linejoin="round"/>
<path d="M800 752.4L804.2 765.5L818 765.5L806.9 773.5L811.1 786.6L800 778.5L788.9 786.6L793.1 773.5L782 765.5L795.8 765.5Z" fill="none" stroke="#FF6E4A" stroke-width="6.8" stroke-linejoin="round"/>
<path d="M815 870.1L819.2 883.2L833 883.2L821.9 891.2L826.1 904.3L815 896.2L803.9 904.3L808.1 891.2L797 883.2L810.8 883.2Z" fill="none" stroke="#FF6E4A" stroke-width="6.8" stroke-linejoin="round"/>
<path d="M840.8 996.1L845 1009.2L858.8 1009.2L847.7 1017.2L851.9 1030.3L840.8 1022.2L829.7 1030.3L833.9 1017.2L822.8 1009.2L836.6 1009.2Z" fill="none" stroke="#FF6E4A" stroke-width="6.8" stroke-linejoin="round"/>
<path d="M503.2 221.3L503.2 225.7" fill="none" stroke="#0B4551" stroke-width="8.4" stroke-linecap="round" stroke-linejoin="round"/>
<path d="M496.5 252L496.5 301" fill="none" stroke="#0B4551" stroke-width="8.4" stroke-linecap="round" stroke-linejoin="round"/>
<path d="M497.6 326.8L498 331.2" fill="none" stroke="#0B4551" stroke-width="8.4" stroke-linecap="round" stroke-linejoin="round"/>
<path d="M503.2 360L504.5 402.5" fill="none" stroke="#0B4551" stroke-width="8.4" stroke-linecap="round" stroke-linejoin="round"/>
<path d="M502 433L506 474.6" fill="none" stroke="#0B4551" stroke-width="8.4" stroke-linecap="round" stroke-linejoin="round"/>
<path d="M504.5 503.2L504.5 507.6" fill="none" stroke="#0B4551" stroke-width="8.4" stroke-linecap="round" stroke-linejoin="round"/>
<path d="M507 534.7C507.8 538.6 510.2 550.5 512 558C513.8 565.5 516.8 576.3 517.8 580" fill="none" stroke="#0B4551" stroke-width="8.4" stroke-linecap="round" stroke-linejoin="round"/>
<path d="M521.9 603.3L521.7 607.7" fill="none" stroke="#0B4551" stroke-width="8.4" stroke-linecap="round" stroke-linejoin="round"/>
<path d="M515 636L517.8 675" fill="none" stroke="#0B4551" stroke-width="8.4" stroke-linecap="round" stroke-linejoin="round"/>
<path d="M516.5 703.5L516.5 707.9" fill="none" stroke="#0B4551" stroke-width="8.4" stroke-linecap="round" stroke-linejoin="round"/>
<path d="M519 736.4C518.4 740 515.5 752.2 515.5 758C515.5 763.8 518.4 768.8 519 771" fill="none" stroke="#0B4551" stroke-width="8.4" stroke-linecap="round" stroke-linejoin="round"/>
<path d="M515.1 800.8L514.9 805.2" fill="none" stroke="#0B4551" stroke-width="8.4" stroke-linecap="round" stroke-linejoin="round"/>
<path d="M515 832.6C514.8 836.8 513.8 849.5 514 858C514.2 866.5 516.1 879.2 516.5 883.4" fill="none" stroke="#0B4551" stroke-width="8.4" stroke-linecap="round" stroke-linejoin="round"/>
<path d="M526.3 906.5L528.1 910.5" fill="none" stroke="#0B4551" stroke-width="8.4" stroke-linecap="round" stroke-linejoin="round"/>
<path d="M540 935.3L546.4 977" fill="none" stroke="#0B4551" stroke-width="8.4" stroke-linecap="round" stroke-linejoin="round"/>
<path d="M542.2 1006.8L541.8 1011.2" fill="none" stroke="#0B4551" stroke-width="8.4" stroke-linecap="round" stroke-linejoin="round"/>
<path d="M542 1041L541 1077.4" fill="none" stroke="#0B4551" stroke-width="8.4" stroke-linecap="round" stroke-linejoin="round"/>
<path d="M537.8 1113.8L538 1118.2" fill="none" stroke="#0B4551" stroke-width="8.4" stroke-linecap="round" stroke-linejoin="round"/>
<path d="M544.3 1148C545.9 1150.5 552.4 1155.9 554 1163C555.6 1170.1 554 1186.1 554 1190.7" fill="none" stroke="#0B4551" stroke-width="8.4" stroke-linecap="round" stroke-linejoin="round"/>
<path d="M562.2 1221.1L562.2 1225.5" fill="none" stroke="#0B4551" stroke-width="8.4" stroke-linecap="round" stroke-linejoin="round"/>
<path d="M553.8 1257C554.6 1260.2 555.4 1269.4 558.6 1276.2C561.8 1283 570.6 1294.2 573 1297.8" fill="none" stroke="#0B4551" stroke-width="8.4" stroke-linecap="round" stroke-linejoin="round"/>
<path d="M590.3 1320.9L591.7 1325.1" fill="none" stroke="#0B4551" stroke-width="8.4" stroke-linecap="round" stroke-linejoin="round"/>
<path d="M591 1350.8C590.4 1354 586.7 1363.2 587.5 1370C588.3 1376.8 594.5 1388 595.9 1391.6" fill="none" stroke="#0B4551" stroke-width="8.4" stroke-linecap="round" stroke-linejoin="round"/>
<path d="M614.9 1411.6L617.7 1415" fill="none" stroke="#0B4551" stroke-width="8.4" stroke-linecap="round" stroke-linejoin="round"/>
<path d="M634.4 1438.5C634 1441.9 633.4 1454.4 632 1459C630.6 1463.6 624.6 1463.6 626 1466.2C627.4 1468.8 638 1473.2 640.4 1474.6" fill="none" stroke="#0B4551" stroke-width="8.4" stroke-linecap="round" stroke-linejoin="round"/>
<path d="M670.7 1475.1L674.9 1474.1" fill="none" stroke="#0B4551" stroke-width="8.4" stroke-linecap="round" stroke-linejoin="round"/>
<path d="M701.7 1459L701.7 1413.3" fill="none" stroke="#0B4551" stroke-width="8.4" stroke-linecap="round" stroke-linejoin="round"/>
<path d="M701.6 1383L701.8 1378.6" fill="none" stroke="#0B4551" stroke-width="8.4" stroke-linecap="round" stroke-linejoin="round"/>
<path d="M704 1348.4L718.5 1311" fill="none" stroke="#0B4551" stroke-width="8.4" stroke-linecap="round" stroke-linejoin="round"/>
<path d="M725.4 1279.6L726.2 1275.2" fill="none" stroke="#0B4551" stroke-width="8.4" stroke-linecap="round" stroke-linejoin="round"/>
<path d="M730.6 1246L741.8 1198.8" fill="none" stroke="#0B4551" stroke-width="8.4" stroke-linecap="round" stroke-linejoin="round"/>
<path d="M740.6 1171.2L739.8 1166.8" fill="none" stroke="#0B4551" stroke-width="8.4" stroke-linecap="round" stroke-linejoin="round"/>
<path d="M729.8 1137.8L709.8 1094.5" fill="none" stroke="#0B4551" stroke-width="8.4" stroke-linecap="round" stroke-linejoin="round"/>
<path d="M697.8 1067.7L696.2 1063.7" fill="none" stroke="#0B4551" stroke-width="8.4" stroke-linecap="round" stroke-linejoin="round"/>
<path d="M687.3 1037.6L676.6 993.6" fill="none" stroke="#0B4551" stroke-width="8.4" stroke-linecap="round" stroke-linejoin="round"/>
<path d="M670 963.7L668.8 959.5" fill="none" stroke="#0B4551" stroke-width="8.4" stroke-linecap="round" stroke-linejoin="round"/>
<path d="M659.5 933.8C658 929.8 654.5 917 650.5 910C646.5 903 638.1 895 635.6 892" fill="none" stroke="#0B4551" stroke-width="8.4" stroke-linecap="round" stroke-linejoin="round"/>
<path d="M635.8 863.2L636.2 858.8" fill="none" stroke="#0B4551" stroke-width="8.4" stroke-linecap="round" stroke-linejoin="round"/>
<path d="M642 829L635.6 769" fill="none" stroke="#0B4551" stroke-width="8.4" stroke-linecap="round" stroke-linejoin="round"/>
<path d="M635.2 736.2L634.8 731.8" fill="none" stroke="#0B4551" stroke-width="8.4" stroke-linecap="round" stroke-linejoin="round"/>
<path d="M628.6 701.9C627.2 699.4 623.1 691.6 620.2 687C617.3 682.4 611.4 677.8 611.2 674C611.1 670.2 617.9 666.1 619.3 664.5" fill="none" stroke="#0B4551" stroke-width="8.4" stroke-linecap="round" stroke-linejoin="round"/>
<path d="M641.6 643L644.4 639.6" fill="none" stroke="#0B4551" stroke-width="8.4" stroke-linecap="round" stroke-linejoin="round"/>
<path d="M659 618.8L670.8 584.6" fill="none" stroke="#0B4551" stroke-width="8.4" stroke-linecap="round" stroke-linejoin="round"/>
<path d="M676 553.7L676.4 549.3" fill="none" stroke="#0B4551" stroke-width="8.4" stroke-linecap="round" stroke-linejoin="round"/>
<path d="M678.3 518.3C678.3 514.4 677.2 502.3 678.3 494.8C679.4 487.3 683.6 477 684.7 473.4" fill="none" stroke="#0B4551" stroke-width="8.4" stroke-linecap="round" stroke-linejoin="round"/>
<path d="M702.9 460.1L707.1 458.9" fill="none" stroke="#0B4551" stroke-width="8.4" stroke-linecap="round" stroke-linejoin="round"/>
<path d="M736 458.5C740.3 458.9 756 458.9 761.7 460.6C767.4 462.4 768.9 465.6 770.3 469C771.7 472.4 770.3 479 770.3 481" fill="none" stroke="#0B4551" stroke-width="8.4" stroke-linecap="round" stroke-linejoin="round"/>
<path d="M771.1 509.8L770.9 514.2" fill="none" stroke="#0B4551" stroke-width="8.4" stroke-linecap="round" stroke-linejoin="round"/>
<path d="M767.7 545L769.2 592" fill="none" stroke="#0B4551" stroke-width="8.4" stroke-linecap="round" stroke-linejoin="round"/>
<path d="M771 620.8L771 625.2" fill="none" stroke="#0B4551" stroke-width="8.4" stroke-linecap="round" stroke-linejoin="round"/>
<path d="M770.3 655L777.7 700" fill="none" stroke="#0B4551" stroke-width="8.4" stroke-linecap="round" stroke-linejoin="round"/>
<path d="M779.8 727.8L780.2 732.2" fill="none" stroke="#0B4551" stroke-width="8.4" stroke-linecap="round" stroke-linejoin="round"/>
<path d="M784 762.8C784.7 766.3 786.9 776.9 788.4 784C789.9 791.1 792 801.9 792.7 805.5" fill="none" stroke="#0B4551" stroke-width="8.4" stroke-linecap="round" stroke-linejoin="round"/>
<path d="M798.6 834.3L799.4 838.7" fill="none" stroke="#0B4551" stroke-width="8.4" stroke-linecap="round" stroke-linejoin="round"/>
<path d="M804.5 868.6C805 872.3 806.5 883.7 807.7 891C809 898.3 811.3 908.8 812 912.4" fill="none" stroke="#0B4551" stroke-width="8.4" stroke-linecap="round" stroke-linejoin="round"/>
<path d="M827.2 935L828.8 939" fill="none" stroke="#0B4551" stroke-width="8.4" stroke-linecap="round" stroke-linejoin="round"/>
<path d="M835.5 970C836.6 973.2 841 981.8 841.9 989.3C842.8 996.8 841 1010.7 840.8 1015" fill="none" stroke="#0B4551" stroke-width="8.4" stroke-linecap="round" stroke-linejoin="round"/>
</g>
<path d="M651.7 1214.9L651.7 1249.7M651.7 1283.4L651.7 1317M651.7 1350.8L651.7 1384.4M651.7 1418L651.7 1453.3" fill="none" stroke="rgba(255,0,0,0.44)" stroke-width="6"/>
<path d="M648.9 1450.5L683.7 1450.5M717.3 1450.5L751 1450.5M784.7 1450.5L801.8 1450.5" fill="none" stroke="rgba(255,0,0,0.44)" stroke-width="6"/>
<path d="M799 1430L799 1453.3M799 1362.8L799 1396.5M799 1295L799 1329M799 1226.9L799 1261.8" fill="none" stroke="rgba(255,0,0,0.44)" stroke-width="6"/>
<path d="M755.8 1203.5L789.5 1203.5M688.5 1203.5L723.3 1203.5" fill="none" stroke="rgba(255,0,0,0.44)" stroke-width="6"/>
<path d="M803.5 1205.9L837.3 1173.6M868.6 1144.6L902.7 1113M933.6 1084.7L967.4 1053.5" fill="none" stroke="#FF0000" stroke-width="8"/>
<g stroke="#000" stroke-width="4" fill="none">
<rect x="244" y="36" width="1194" height="1676.8"/>
<path d="M343.5 1712.8V1703.3M443 1712.8V1694.1M542.5 1712.8V1703.3M642 1712.8V1694.1M741.5 1712.8V1703.3M841 1712.8V1694.1M940.5 1712.8V1703.3M1040 1712.8V1694.1M1139.5 1712.8V1703.3M1239 1712.8V1694.1M1338.5 1712.8V1703.3M244 1571.8H262.7M244 1432.1H253.5M244 1292.5H262.7M244 1152.9H253.5M244 1013.2H262.7M244 873.6H253.5M244 734H262.7M244 594.4H253.5M244 454.8H262.7M244 315.1H253.5M244 175.5H262.7"/>
</g>
<text x="181.9" y="1788.7" font-size="73"><tspan textLength="46.9" lengthAdjust="spacingAndGlyphs">−</tspan><tspan dx="0.7">30</tspan></text>
<text x="380.9" y="1788.7" font-size="73"><tspan textLength="46.9" lengthAdjust="spacingAndGlyphs">−</tspan><tspan dx="0.7">20</tspan></text>
<text x="579.9" y="1788.7" font-size="73"><tspan textLength="46.9" lengthAdjust="spacingAndGlyphs">−</tspan><tspan dx="0.7">10</tspan></text>
<text x="841.5" y="1788.7" font-size="73" text-anchor="middle">0</text>
<text x="1040.5" y="1788.7" font-size="73" text-anchor="middle">10</text>
<text x="1239.5" y="1788.7" font-size="73" text-anchor="middle">20</text>
<text x="1438.5" y="1788.7" font-size="73" text-anchor="middle">30</text>
<text x="66.4" y="1593" font-size="73"><tspan textLength="46.9" lengthAdjust="spacingAndGlyphs">−</tspan><tspan dx="0.7">100</tspan></text>
<text x="102.9" y="1313.7" font-size="73"><tspan textLength="46.9" lengthAdjust="spacingAndGlyphs">−</tspan><tspan dx="0.7">50</tspan></text>
<text x="223.6" y="1034.5" font-size="73" text-anchor="end">0</text>
<text x="223.6" y="755.2" font-size="73" text-anchor="end">50</text>
<text x="223.6" y="475.9" font-size="73" text-anchor="end">100</text>
<text x="223.6" y="196.7" font-size="73" text-anchor="end">150</text>
<text x="842" y="1892" font-size="82" text-anchor="middle"><tspan font-style="italic">x</tspan> (m)</text>
<text transform="translate(90 881) rotate(-90)" font-size="82" text-anchor="middle"><tspan font-style="italic">y</tspan> (m)</text>
<rect x="984.4" y="687" width="257.1" height="353.8" fill="#fff"/>
<clipPath id="ic"><rect x="984.4" y="687" width="257.1" height="353.8"/></clipPath>
<g clip-path="url(#ic)">
<path d="M1092.5 683C1092.2 683.8 1092.6 682.2 1091 688C1089.4 693.8 1085.7 707.9 1083 717.7C1080.3 727.5 1077.4 737 1075 746.6C1072.6 756.2 1070.7 765.8 1068.6 775.4C1066.5 785 1064.3 794.7 1062.2 804.3C1060.1 813.9 1058.5 823.9 1055.8 833C1053.1 842.1 1050.3 850.2 1046 858.8C1041.7 867.4 1034.2 876.4 1030 884.4C1025.8 892.4 1022.3 899 1020.5 907C1018.7 915 1019.2 923.4 1019 932.5C1018.8 941.6 1019 951.8 1019 961.4C1019 971 1018.5 981.2 1019 990.3C1019.5 999.4 1021.5 1006.9 1022 1016C1022.5 1025.1 1022 1040.2 1022 1045" fill="none" stroke="#069E8C" stroke-width="9.2" stroke-linecap="round" stroke-linejoin="round"/>
<path d="M1033.3 858.9L1054 879.6L1033.3 900.3L1012.6 879.6Z" fill="none" stroke="#069E8C" stroke-width="6.4" stroke-linejoin="round"/>
<path d="M1083 683C1082.8 683.8 1083.1 682.2 1081.5 688C1079.9 693.8 1076.4 707.9 1073.5 717.7C1070.6 727.5 1066.6 737 1063.9 746.6C1061.2 756.2 1059.4 765.8 1057.5 775.4C1055.6 785 1054.7 794.7 1052.5 804.3C1050.3 813.9 1048 823.9 1044.5 833C1041 842.1 1036.6 850.8 1031.8 858.8C1027 866.8 1019.8 873.7 1015.8 881.2C1011.8 888.7 1009.4 895.2 1007.8 903.7C1006.2 912.2 1006.8 922.9 1006.2 932.5C1005.7 942.1 1004.5 951.8 1004.5 961.4C1004.5 971 1005.7 981.2 1006.2 990.3C1006.8 999.4 1007.5 1006.9 1007.8 1016C1008.1 1025.1 1007.8 1040.2 1007.8 1045" fill="none" stroke="#FF55D9" stroke-width="9.2" stroke-linecap="round" stroke-linejoin="round"/>
<circle cx="1055.8" cy="790.8" r="15.5" fill="none" stroke="#FF55D9" stroke-width="6.4"/>
<circle cx="1009.3" cy="957.5" r="15.5" fill="none" stroke="#FF55D9" stroke-width="6.4"/>
<path d="M1084.5 683C1084.2 683.8 1084.6 682.2 1083 688C1081.4 693.8 1077.9 707.9 1075 717.7C1072.1 727.5 1068.1 737 1065.4 746.6C1062.7 756.2 1060.9 765.8 1059 775.4C1057.1 785 1056.2 794.7 1054 804.3C1051.8 813.9 1049.5 823.9 1046 833C1042.5 842.1 1038.1 850.8 1033.3 858.8C1028.5 866.8 1021.3 873.7 1017.3 881.2C1013.3 888.7 1010.9 895.2 1009.3 903.7C1007.7 912.2 1008.2 922.9 1007.7 932.5C1007.2 942.1 1006 951.8 1006 961.4C1006 971 1007.2 981.2 1007.7 990.3C1008.2 999.4 1009 1006.9 1009.3 1016C1009.6 1025.1 1009.3 1040.2 1009.3 1045" fill="none" stroke="#5468FF" stroke-width="9.2" stroke-linecap="round" stroke-linejoin="round"/>
<path d="M1028 817L1059 800L1059 834Z" fill="none" stroke="#5468FF" stroke-width="6.4" stroke-linejoin="round"/>
<path d="M989.3 1018.5L1020.3 1001.5L1020.3 1035.5Z" fill="none" stroke="#5468FF" stroke-width="6.4" stroke-linejoin="round"/>
<path d="M1116.5 683C1116.8 683.8 1116.9 683.8 1118.3 688C1119.7 692.2 1123.6 700.9 1124.7 708C1125.8 715.1 1125.8 722.5 1124.7 730.5C1123.6 738.5 1120.4 747.7 1118.3 756.2C1116.2 764.8 1113.9 773.2 1112 781.8C1110.1 790.3 1108.4 799 1107 807.5C1105.6 816 1104.9 824.5 1103.8 833C1102.7 841.5 1102.5 850.2 1100.6 858.8C1098.7 867.4 1095.3 875.9 1092.6 884.4C1089.9 892.9 1087.8 901.5 1084.6 910C1081.4 918.5 1076.1 927.1 1073.4 935.7C1070.7 944.3 1069.4 952.9 1068.6 961.4C1067.8 969.9 1068.3 978.5 1068.6 987C1068.9 995.5 1069.4 1003.7 1070.2 1012.7C1071 1021.7 1072.8 1035.5 1073.4 1041C1074 1046.5 1073.9 1045.2 1074 1046" fill="none" stroke="#FF6E4A" stroke-width="9.2" stroke-linecap="round" stroke-linejoin="round"/>
<path d="M1101.6 824.9L1105.8 837.7L1119.2 837.7L1108.3 845.6L1112.5 858.4L1101.6 850.5L1090.7 858.4L1094.9 845.6L1084 837.7L1097.4 837.7Z" fill="none" stroke="#FF6E4A" stroke-width="6.4" stroke-linejoin="round"/>
<path d="M1137 692L1139 686" fill="none" stroke="#0B4551" stroke-width="7" stroke-linecap="round" stroke-linejoin="round"/>
<path d="M1125.7 729.6L1125.5 730.4" fill="none" stroke="#0B4551" stroke-width="7" stroke-linecap="round" stroke-linejoin="round"/>
<path d="M1117.3 765.8L1114.4 785" fill="none" stroke="#0B4551" stroke-width="7" stroke-linecap="round" stroke-linejoin="round"/>
<path d="M1106.1 825.4L1105.9 826.2" fill="none" stroke="#0B4551" stroke-width="7" stroke-linecap="round" stroke-linejoin="round"/>
<path d="M1095.8 855.6L1086.2 873.2" fill="none" stroke="#0B4551" stroke-width="7" stroke-linecap="round" stroke-linejoin="round"/>
<path d="M1070.3 910.6L1070.1 911.4" fill="none" stroke="#0B4551" stroke-width="7" stroke-linecap="round" stroke-linejoin="round"/>
<path d="M1070.2 947L1067 971" fill="none" stroke="#0B4551" stroke-width="7" stroke-linecap="round" stroke-linejoin="round"/>
<path d="M1071.1 1007.6L1070.9 1008.4" fill="none" stroke="#0B4551" stroke-width="7" stroke-linecap="round" stroke-linejoin="round"/>
</g>
<g stroke="#000" stroke-width="4.8" fill="none">
<rect x="984.4" y="687" width="257.1" height="353.8"/>
<path d="M1002.5 1040.8V1034.6M1037.2 1040.8V1027.6M1072 1040.8V1034.6M1106.7 1040.8V1027.6M1141.5 1040.8V1034.6M1176.2 1040.8V1027.6M1211 1040.8V1034.6M984.4 715H990.6M984.4 775.2H997M984.4 835.4H990.6M984.4 895.7H997M984.4 955.9H990.6M984.4 1016.1H997"/>
</g>
<text x="891.6" y="788.5" font-size="47"><tspan textLength="30.2" lengthAdjust="spacingAndGlyphs">−</tspan><tspan dx="0.5">45</tspan></text>
<text x="891.6" y="909" font-size="47"><tspan textLength="30.2" lengthAdjust="spacingAndGlyphs">−</tspan><tspan dx="0.5">60</tspan></text>
<text x="891.6" y="1029.4" font-size="47"><tspan textLength="30.2" lengthAdjust="spacingAndGlyphs">−</tspan><tspan dx="0.5">75</tspan></text>
<text x="1008.1" y="1090.6" font-size="47"><tspan textLength="30.2" lengthAdjust="spacingAndGlyphs">−</tspan><tspan dx="0.5">8</tspan></text>
<text x="1077.6" y="1090.6" font-size="47"><tspan textLength="30.2" lengthAdjust="spacingAndGlyphs">−</tspan><tspan dx="0.5">6</tspan></text>
<text x="1147.1" y="1090.6" font-size="47"><tspan textLength="30.2" lengthAdjust="spacingAndGlyphs">−</tspan><tspan dx="0.5">4</tspan></text>
<rect x="865.2" y="1254" width="561" height="421.1" fill="#fff" stroke="#000" stroke-width="3.8"/>
<path d="M874.6 1300H1023.4" stroke="#069E8C" stroke-width="8.2" stroke-linecap="round" fill="none"/>
<path d="M948.5 1270.5L978 1300L948.5 1329.5L919 1300Z" fill="none" stroke="#069E8C" stroke-width="6.4" stroke-linejoin="round"/>
<path d="M874.6 1382H1023.4" stroke="#FF55D9" stroke-width="8.2" stroke-linecap="round" fill="none"/>
<circle cx="948.5" cy="1382" r="23" fill="none" stroke="#FF55D9" stroke-width="6.4"/>
<path d="M874.6 1464.7H1023.4" stroke="#5468FF" stroke-width="8.2" stroke-linecap="round" fill="none"/>
<path d="M920 1464.7L964.8 1436.2L964.8 1493.2Z" fill="none" stroke="#5468FF" stroke-width="6.4" stroke-linejoin="round"/>
<path d="M874.6 1547.3H1023.4" stroke="#FF6E4A" stroke-width="8.2" stroke-linecap="round" fill="none"/>
<path d="M948.5 1519.3L954.8 1538.6L975.1 1538.6L958.7 1550.6L965 1570L948.5 1558L932 1570L938.3 1550.6L921.9 1538.6L942.2 1538.6Z" fill="none" stroke="#FF6E4A" stroke-width="6.4" stroke-linejoin="round"/>
<path d="M876 1629.2H919.5M949.5 1629.2H955.5M985.7 1629.2H1022.9" stroke="#0B4551" stroke-width="8.6" stroke-linecap="round" fill="none"/>
<g font-size="65.5">
<text x="1039" y="1321.7">A-LOAM</text>
<text x="1039" y="1403.7">ISC-LOAM</text>
<text x="1039" y="1486.4">LeGO-LOAM</text>
<text x="1039" y="1569">RS-SLAM</text>
<text x="1039" y="1650.9">RTK</text>
</g>
</svg></body></html>
